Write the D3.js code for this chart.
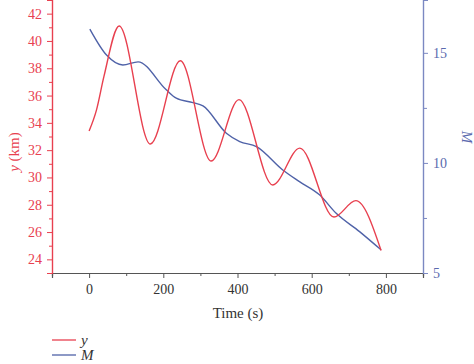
<!DOCTYPE html>
<html>
<head>
<meta charset="utf-8">
<script src="https://cdn.jsdelivr.net/npm/d3@7"></script>
<style>
  body { margin: 0; background: #fff; }
</style>
</head>
<body>
<div id="chart"></div>
<script>
// values
const yTime = [0, 20, 40, 81, 165, 246, 329, 404, 495, 568, 660, 719, 787];
const yKm   = [33.4, 34.95, 37.4, 41.1, 32.45, 38.55, 31.2, 35.7, 29.45, 32.15, 27.1, 28.3, 24.65];

const mTime = [2, 47, 91, 132, 208, 235, 280, 307, 370, 406, 451, 522, 567, 621, 666, 729, 787];
const mVal  = [16.08, 14.9, 14.45, 14.59, 13.32, 12.94, 12.74, 12.59, 11.35, 10.97, 10.74, 9.68, 9.15, 8.55, 7.71, 6.88, 6.05];

const xTicks = [0, 200, 400, 600, 800];
const leftTicks = [24, 26, 28, 30, 32, 34, 36, 38, 40, 42];
const rightTicks = [5, 10, 15];

const red = "#e8404f", blue = "#4f62a8";
const serif = "Liberation Serif, DejaVu Serif, serif";

const margin = {top: 0, right: 51, bottom: 91, left: 52},
    width = 474 - margin.left - margin.right,
    height = 364 - margin.top - margin.bottom;

const svg = d3.select("#chart").append("svg")
    .attr("width", 474)
    .attr("height", 364)
    .attr("font-family", serif);
const g = svg.append("g")
    .attr("transform", `translate(${margin.left},${margin.top})`);

const x = d3.scaleLinear().domain([-100, 900]).range([0, width]);
const yL = d3.scaleLinear().domain([23, 43]).range([height, 0]);
const yR = d3.scaleLinear().domain([5, 17.4]).range([height, 0]);

function styleAxis(sel, color) {
    sel.attr("font-family", serif).attr("font-size", 14);
    sel.select(".domain").attr("stroke", color).attr("stroke-width", 1.2);
    sel.selectAll(".tick line").attr("stroke", color);
    sel.selectAll("text").attr("fill", color);
}

// X axis
const xMinor = g.append("g").attr("transform", `translate(0,${height})`)
    .call(d3.axisBottom(x).tickValues(d3.range(-100, 901, 200)).tickSize(3).tickFormat(""));
styleAxis(xMinor, "#555");
const xAx = g.append("g").attr("transform", `translate(0,${height})`)
    .call(d3.axisBottom(x).tickValues(xTicks).tickSize(5).tickPadding(6));
styleAxis(xAx, "#555");
xAx.selectAll("text").attr("fill", "#333");

// Left axis
const lMinor = g.append("g")
    .call(d3.axisLeft(yL).tickValues(d3.range(23, 44, 2)).tickSize(3).tickFormat(""));
styleAxis(lMinor, red);
const lAx = g.append("g")
    .call(d3.axisLeft(yL).tickValues(leftTicks).tickSize(5).tickPadding(5));
styleAxis(lAx, red);

// Right axis
const rMinor = g.append("g").attr("transform", `translate(${width},0)`)
    .call(d3.axisRight(yR).tickValues([7.5, 12.5]).tickSize(4).tickFormat(""));
styleAxis(rMinor, "#7b88c2");
const rAx = g.append("g").attr("transform", `translate(${width},0)`)
    .call(d3.axisRight(yR).tickValues(rightTicks).tickSize(5).tickPadding(5));
styleAxis(rAx, "#7b88c2");
rAx.selectAll("text").attr("fill", "#5a6aae");

// Lines
const lineY = d3.line().x(d => x(d[0])).y(d => yL(d[1])).curve(d3.curveMonotoneX);
const lineM = d3.line().x(d => x(d[0])).y(d => yR(d[1])).curve(d3.curveMonotoneX);

g.append("path")
    .datum(d3.zip(mTime, mVal))
    .attr("fill", "none").attr("stroke", blue).attr("stroke-width", 1.4)
    .attr("d", lineM);
g.append("path")
    .datum(d3.zip(yTime, yKm))
    .attr("fill", "none").attr("stroke", red).attr("stroke-width", 1.4)
    .attr("d", lineY);

// Axis titles
svg.append("text")
    .attr("x", 238).attr("y", 318)
    .attr("text-anchor", "middle")
    .attr("font-size", 15).attr("fill", "#333")
    .text("Time (s)");

const lt = svg.append("text")
    .attr("transform", "translate(19,152) rotate(-90)")
    .attr("text-anchor", "middle")
    .attr("font-size", 15).attr("fill", red);
lt.append("tspan").attr("font-style", "italic").text("y");
lt.append("tspan").text(" (km)");

svg.append("text")
    .attr("transform", "translate(462,137) rotate(90)")
    .attr("text-anchor", "middle")
    .attr("font-size", 15).attr("font-style", "italic").attr("fill", "#5a6aae")
    .text("M");

// Legend
const legend = [{label: "y", color: red}, {label: "M", color: blue}];
legend.forEach((d, i) => {
    const ly = 340 + i * 15;
    svg.append("line")
        .attr("x1", 52).attr("x2", 76).attr("y1", ly).attr("y2", ly)
        .attr("stroke", d.color).attr("stroke-width", 1.3);
    svg.append("text")
        .attr("x", 81).attr("y", ly + 5)
        .attr("font-size", 15).attr("font-style", "italic").attr("fill", "#333")
        .text(d.label);
});
</script>
</body>
</html>
